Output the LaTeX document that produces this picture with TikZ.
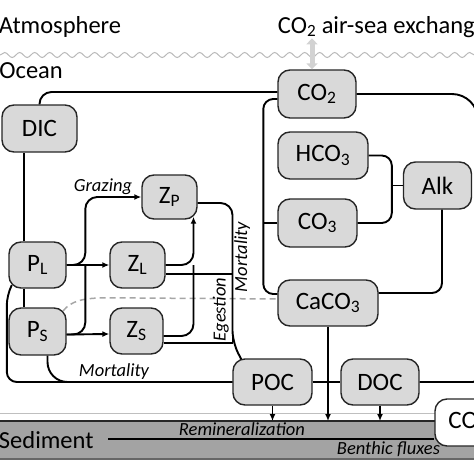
\documentclass[tikz,border=0pt]{standalone}
\usepackage{fontspec}
\setmainfont{Carlito}
\usepackage{tikz}
\usetikzlibrary{arrows.meta, decorations.pathmorphing}

\begin{document}
\begin{tikzpicture}[x=1pt, y=-1pt, line width=1.9pt,
    box/.style={rectangle, rounded corners=12pt, draw=black!85, line width=1.4pt, fill=gray!30, inner sep=0pt, font=\fontsize{25}{27}\selectfont},
    lbl/.style={inner sep=0pt, font=\fontsize{18.5}{20}\selectfont\itshape},
    big/.style={inner sep=0pt, font=\fontsize{24.5}{27}\selectfont},
    tip/.style={-{Latex[length=7pt,width=6pt]}}]
\useasboundingbox (0,0) rectangle (474,474);
\clip (0,0) rectangle (474,474);

% surface and sediment
\draw[gray!55, line width=1pt, decorate, decoration={snake, segment length=15pt, amplitude=2.5pt}] (0,55) -- (480,55);
\fill[gray!72] (0,421) rectangle (474,459);
\draw[gray!50, line width=1pt] (0,413) -- (474,413);
\draw[black!85, line width=1.5pt] (0,421) -- (474,421);
\draw[black!60, line width=1.2pt] (0,459) -- (474,459);
\coordinate (sedtop) at (0,421);
\coordinate (benth) at (108,439);

\node[big, anchor=base west] at (-2,33) {Atmosphere};
\node[big, anchor=base west] at (-1.5,78) {Ocean};
\node[big, anchor=base west] at (277,33) {CO\textsubscript{2} air-sea exchange};
\node[big, anchor=base west] at (-2,448) {Sediment};

\begin{scope}[every node/.style=box]
    \node[minimum width=78pt, minimum height=48pt] (co2) at (317,94) {CO\textsubscript{2}};
    \node[minimum width=75pt, minimum height=47pt] (dic) at (39.5,128.5) {DIC};
    \node[minimum width=90pt, minimum height=47pt] (hco) at (323,155.5) {HCO\textsubscript{3}};
    \node[minimum width=79pt, minimum height=48pt] (co) at (317.5,223) {CO\textsubscript{3}};
    \node[minimum width=68pt, minimum height=47pt] (alk) at (437.5,185.5) {Alk};
    \node[minimum width=100pt, minimum height=46pt] (caco) at (328,303) {CaCO\textsubscript{3}};
    \node[minimum width=79pt, minimum height=46pt] (poc) at (272.5,382) {POC};
    \node[minimum width=78pt, minimum height=46pt] (doc) at (380,382) {DOC};
    \node[minimum width=57pt, minimum height=46pt] (pl) at (37.5,265) {P\textsubscript{L}};
    \node[minimum width=57pt, minimum height=47pt] (ps) at (37.5,331.5) {P\textsubscript{S}};
    \node[minimum width=55pt, minimum height=46pt] (zl) at (137.5,265) {Z\textsubscript{L}};
    \node[minimum width=53pt, minimum height=46pt] (zs) at (136.5,331) {Z\textsubscript{S}};
    \node[minimum width=55pt, minimum height=44pt] (zp) at (169.5,197) {Z\textsubscript{P}};
    \node[minimum width=66pt, minimum height=47pt, fill=white] (co2s) at (468,422.5) {CO\textsubscript{2}};
\end{scope}

\draw[{Triangle[width=11pt,length=6pt]}-{Triangle[width=11pt,length=6pt]}, gray!35, line width=5pt] ([xshift=-5pt]co2.north) -- ++(0,-31);
\draw (benth) -- (benth -| co2s.west);

% carbonate system
\coordinate (rt) at (478,240);
\draw[rounded corners=12pt] (dic.north) |- ([yshift=2pt]co2.west);
\draw[rounded corners=26pt] (co2.east) -| (rt);
\draw[rounded corners=5pt] (rt) |- (doc.east);
\draw[rounded corners=10pt] ([yshift=-5pt]co2.west) -| ([xshift=-14pt]co.west) |- ([yshift=9pt]caco.west);
\draw (co.west) -- ++(-14,0);
\draw[rounded corners=10pt] (hco.east) -| ([xshift=-11pt]alk.west) |- (co.east);
\draw (alk.west) -- ++(-11,0);
\draw[rounded corners=10pt] ([xshift=4.5pt]alk.south) |- ([yshift=10pt]caco.east);
\draw[gray!70, line width=1.5pt, dash pattern=on 6pt off 4pt] ([shift={(-3.5pt,-3.5pt)}]ps.north east) .. controls +(8,-10) and +(-25,0) .. ++(45,-13) -- ([yshift=4pt]caco.west);

% export to sediment
\path [-] (poc) edge (doc);
\draw[tip] (caco.south) -- (caco.south |- sedtop);
\draw[tip] (poc.south) -- (poc.south |- sedtop);
\draw[tip] (doc.south) -- (doc.south |- sedtop);

% plankton
\draw ([xshift=-13.5pt]pl.north) -- ([xshift=-13.5pt]pl.north |- dic.south);
\draw ([xshift=-13.5pt]pl.south) -- ([xshift=-13.5pt]ps.north);
\path [tip] (pl) edge (zl);
\path [tip] ([yshift=-3pt]ps.east) edge ([yshift=-3pt]zs.west);
\draw[tip, rounded corners=12pt] (pl.east) -| ([xshift=-56pt]zp.west) -- (zp.west);
\draw[rounded corners=12pt] ([yshift=-3pt]ps.east) -| ([xshift=-56pt]zp.west |- pl.east);
\draw[tip, rounded corners=12pt] (zl.east) -| ([xshift=24pt,yshift=3pt]zp.south);
\draw[rounded corners=12pt] ([yshift=-5pt]zs.east) -| ([xshift=24pt]zp.south |- zl.east);
\coordinate (eg) at ([xshift=-40pt]poc.north);
\coordinate (zlout) at ([yshift=-9pt]zl.east);
\coordinate (zsout) at ([yshift=-12pt]zs.east);
\draw[rounded corners=12pt] ([yshift=-6pt]zp.east) -| ([yshift=16pt]eg) -- ([xshift=9pt,yshift=-1pt]poc.north west);
\draw (zlout) -| (zsout -| eg) -- (zsout);
\draw[rounded corners=10pt] ([shift={(3.5pt,3.5pt)}]pl.south west) -- ++(-5,10) |- (poc.west);
\draw[rounded corners=20pt] ([xshift=10pt]ps.south) |- (poc.west);

\node[lbl, anchor=base west] at (73,191) {Grazing};
\node[lbl, anchor=base west] at (78,376) {Mortality};
\node[lbl, anchor=base west, rotate=90] at (225.5,342) {Egestion};
\node[lbl, anchor=base west, rotate=90] at (247,293) {Mortality};
\node[lbl, anchor=base west] at (178,435) {Remineralization};
\node[lbl, anchor=base west] at (336,454) {Benthic fluxes};
\end{tikzpicture}
\end{document}
